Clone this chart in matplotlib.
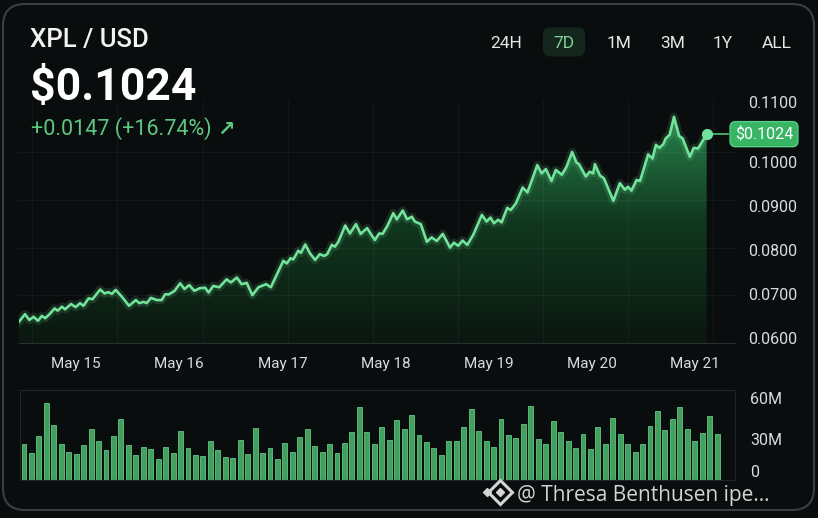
import numpy as np
import matplotlib.pyplot as plt
from matplotlib.colors import LinearSegmentedColormap
from matplotlib.patches import FancyBboxPatch
from matplotlib.transforms import blended_transform_factory

plt.rcParams['font.family'] = ['Roboto', 'DejaVu Sans']

# price line: hours since May 15 00:00 and price in USD
hours = [-13.3, -11.9, -10.9, -9.9, -8.9, -8.0, -7.2, -6.4, -5.0, -4.3,
         -3.3, -2.6, -1.2, -0.1, 0.9, 1.7, 2.9, 3.8, 5.6, 6.6,
         7.5, 8.3, 9.2, 10.6, 12.3, 13.9, 14.7, 15.7, 16.4, 17.4,
         18.8, 19.9, 20.7, 21.6, 22.9, 24.2, 25.2, 26.3, 27.5, 28.8,
         30.0, 30.8, 31.9, 33.3, 35.0, 36.0, 37.4, 38.5, 39.7, 41.0,
         42.4, 44.2, 45.3, 47.0, 48.2, 49.0, 49.9, 50.5, 51.7, 52.3,
         53.3, 54.4, 55.6, 56.7, 57.7, 58.4, 59.5, 60.2, 61.0, 62.6,
         63.7, 65.1, 66.2, 67.7, 69.5, 70.5, 71.3, 72.4, 73.8, 74.6,
         76.0, 77.0, 78.1, 78.8, 80.2, 81.6, 82.7, 83.9, 85.3, 87.0,
         87.9, 88.9, 89.9, 91.0, 92.4, 94.4, 95.5, 96.4, 97.2, 98.2,
         99.0, 100.3, 101.1, 102.3, 103.9, 105.0, 107.3, 108.3, 109.3, 110.6,
         111.6, 113.0, 114.1, 115.4, 116.4, 117.0, 118.6, 119.5, 120.3, 120.7,
         121.9, 122.8, 125.0, 126.5, 127.7, 128.4, 129.2, 130.4, 131.2, 133.1,
         134.1, 134.9, 135.7, 136.6, 137.2, 138.1, 139.1, 140.3, 141.1, 142.8,
         143.7, 144.7, 145.3, 146.7]
price = [0.0637, 0.0654, 0.0641, 0.0648, 0.0639, 0.0650, 0.0645, 0.0652, 0.0667, 0.0662,
         0.0671, 0.0665, 0.0677, 0.0670, 0.0679, 0.0673, 0.0690, 0.0688, 0.0710, 0.0701,
         0.0704, 0.0700, 0.0709, 0.0694, 0.0673, 0.0686, 0.0679, 0.0682, 0.0679, 0.0691,
         0.0686, 0.0686, 0.0699, 0.0699, 0.0707, 0.0724, 0.0711, 0.0720, 0.0707, 0.0713,
         0.0714, 0.0703, 0.0718, 0.0715, 0.0733, 0.0726, 0.0737, 0.0722, 0.0725, 0.0697,
         0.0715, 0.0722, 0.0715, 0.0750, 0.0775, 0.0769, 0.0781, 0.0778, 0.0798, 0.0793,
         0.0812, 0.0792, 0.0777, 0.0790, 0.0786, 0.0790, 0.0811, 0.0807, 0.0818, 0.0855,
         0.0837, 0.0858, 0.0836, 0.0849, 0.0822, 0.0837, 0.0836, 0.0854, 0.0883, 0.0869,
         0.0889, 0.0869, 0.0875, 0.0864, 0.0858, 0.0818, 0.0828, 0.0820, 0.0836, 0.0805,
         0.0816, 0.0809, 0.0821, 0.0811, 0.0834, 0.0879, 0.0864, 0.0873, 0.0860, 0.0868,
         0.0862, 0.0895, 0.0890, 0.0905, 0.0941, 0.0930, 0.0992, 0.0973, 0.0983, 0.0956,
         0.0981, 0.0970, 0.0988, 0.1016, 0.0998, 0.0994, 0.0966, 0.0977, 0.0973, 0.0994,
         0.0968, 0.0962, 0.0911, 0.0951, 0.0936, 0.0943, 0.0934, 0.0958, 0.0956, 0.1012,
         0.1005, 0.1028, 0.1023, 0.1029, 0.1039, 0.1045, 0.1075, 0.1043, 0.1039, 0.1008,
         0.1023, 0.1022, 0.1029, 0.1046]

# volume bars, millions
volume_m = [26.1, 19.8, 32.2, 56.3, 40.2, 26.6, 20.7, 19.0, 25.6, 37.3,
            28.8, 22.2, 32.2, 44.9, 25.9, 18.3, 23.9, 22.7, 15.6, 23.9,
            19.5, 35.9, 23.2, 18.3, 17.8, 28.5, 22.0, 16.6, 15.9, 29.0,
            19.3, 38.0, 20.0, 23.4, 15.6, 27.3, 20.5, 31.2, 37.3, 24.6,
            20.2, 26.6, 19.8, 27.3, 34.9, 53.4, 35.4, 26.3, 39.0, 29.3,
            44.1, 37.3, 47.6, 32.7, 27.6, 23.7, 18.3, 28.3, 28.3, 39.0,
            52.0, 35.9, 28.3, 24.4, 44.4, 32.9, 30.5, 41.0, 54.1, 30.0,
            26.3, 43.4, 35.4, 28.5, 23.4, 33.7, 22.4, 38.8, 26.1, 45.6,
            33.7, 26.3, 20.2, 26.1, 39.3, 50.7, 36.8, 44.9, 53.2, 37.3,
            28.8, 34.4, 47.1, 33.4]

day_hours = [0, 24, 48, 72, 96, 120, 144]
day_labels = ['May 15', 'May 16', 'May 17', 'May 18', 'May 19', 'May 20', 'May 21']
price_ticks = [0.06, 0.07, 0.08, 0.09, 0.10, 0.11]
vol_ticks = [0, 30, 60]
vol_labels = ['0', '30M', '60M']
frames = ['24H', '7D', '1M', '3M', '1Y', 'ALL']
active_frame = '7D'
pair = 'XPL / USD'
last_label = '$0.1024'
change_label = '+0.0147 (+16.74%)'
watermark = '@ Thresa Benthusen ipe...'

BG = '#0a0d0e'
LINE = '#72e39a'
TXT = '#d9dcdc'
GREEN_TXT = '#5cc87f'

# the price axis of the screenshot is not evenly spaced above 0.10
scale_vals = [0.05, 0.06, 0.10, 0.11, 0.12]
scale_pos = [-44.1, 0.0, 176.5, 236.0, 295.5]
def fwd(v):
    return np.interp(v, scale_vals, scale_pos)
def inv(p):
    return np.interp(p, scale_pos, scale_vals)

fig = plt.figure(figsize=(8.18, 5.18), dpi=100)
fig.patch.set_facecolor(BG)

# price panel
ax = fig.add_axes([19 / 818, 175 / 518, 716 / 818, 243 / 518])
ax.set_facecolor('none')
ax.set_yscale('function', functions=(fwd, inv))
ybot, ytop = 0.05887, 0.11034
xl, xr = -13.3, 153.3

fill = ax.fill_between(hours, price, ybot, color='none', lw=0)
cmap = LinearSegmentedColormap.from_list('g', ['#0b1710', '#11381f', '#2b8d53'])
grad = np.linspace(1, 0, 256).reshape(-1, 1)
im = ax.imshow(grad, extent=[0, 1, 0, 1], transform=ax.transAxes, aspect='auto',
               cmap=cmap, zorder=1, interpolation='bicubic')
im.set_clip_path(fill.get_paths()[0], transform=ax.transData)

ax.plot(hours, price, color=LINE, lw=6, alpha=0.14, zorder=2, solid_joinstyle='round')
ax.plot(hours, price, color=LINE, lw=1.9, zorder=3, solid_joinstyle='round')
ax.plot([hours[-1], xr - 1.7], [price[-1], price[-1]], color='#4fc27a', lw=1.2, zorder=3)
ax.plot(hours[-1], price[-1], 'o', ms=7, color=LINE, zorder=4)
ax.text(1.0405, price[-1], last_label, transform=blended_transform_factory(ax.transAxes, ax.transData),
        ha='center', va='center', color='white', fontsize=11.5, clip_on=False, zorder=5,
        bbox=dict(boxstyle='round,pad=0.3,rounding_size=0.35', fc='#37b464', ec='#58d086', lw=1))

ax.set_xlim(xl, xr)
ax.set_ylim(ybot, ytop)
ax.set_xticks(day_hours, day_labels)
ax.set_yticks(price_ticks, [f'{t:.4f}' for t in price_ticks])
ax.set_xticks(np.arange(-10.2, 150, 19.8), minor=True)
ax.set_yticks([0.0698, 0.0804, 0.0913, 0.1016], minor=True)
ax.grid(which='minor', color='white', alpha=0.045, lw=0.8)
ax.yaxis.tick_right()
ax.tick_params(which='both', length=0)
ax.tick_params(axis='y', pad=9.4, labelsize=11.5, labelcolor=TXT)
ax.tick_params(axis='x', pad=10, labelsize=11, labelcolor=TXT)
for s in ['top', 'left', 'right']:
    ax.spines[s].set_visible(False)
ax.spines['bottom'].set_color('#2a3032')

# volume panel
ax2 = fig.add_axes([20 / 818, 38 / 518, 715 / 818, 90 / 518])
ax2.set_facecolor('none')
ax2.bar(np.arange(len(volume_m)), volume_m, width=0.66, color='#42a05e',
        edgecolor='#62c482', linewidth=0.6)
ax2.set_xlim(-0.54, 95.4)
ax2.set_ylim(0, 66)
ax2.set_xticks([])
ax2.set_yticks(vol_ticks, vol_labels)
ax2.yaxis.tick_right()
ax2.tick_params(length=0, pad=10.8, labelsize=11.5, labelcolor=TXT)
vticks = ax2.yaxis.get_major_ticks()
vticks[0].label2.set_va('bottom')
for s in ax2.spines.values():
    s.set_color('#202627')

# overlay in pixel units for the card, header and watermark
ov = fig.add_axes([0, 0, 1, 1], zorder=5)
ov.set_xlim(0, 818)
ov.set_ylim(518, 0)
ov.axis('off')
ov.patch.set_alpha(0)
ov.add_patch(FancyBboxPatch((3, 4), 811, 506, boxstyle='round,pad=0,rounding_size=22',
                            fc='none', ec='#3a4042', lw=1.5))

ov.text(30, 47, pair, fontsize=18.5, fontweight='medium', color='#f2f2f2', va='baseline')
ov.text(30, 100, last_label, fontsize=32, fontweight='bold', color='white', va='baseline')
ov.text(31, 135, change_label, fontsize=15.5, color=GREEN_TXT, va='baseline')
ov.text(217, 136, '\u2197', fontsize=15, fontweight='bold', color=GREEN_TXT, va='baseline',
        family=['DejaVu Sans'])

frame_x = [506, 564, 619, 673, 723, 777]
for fx, lab in zip(frame_x, frames):
    if lab == active_frame:
        ov.add_patch(FancyBboxPatch((fx - 21, 27.5), 42, 29, boxstyle='round,pad=0,rounding_size=7',
                                    fc='#15271c', ec='none'))
        ov.text(fx, 43, lab, fontsize=12.5, color='#7fd39a', ha='center', va='center')
    else:
        ov.text(fx, 43, lab, fontsize=12.5, color='#e6e6e6', ha='center', va='center')

ov.plot(500, 492, marker='D', ms=12, mfc='none', mec='#d4d4d4', mew=2.2)
ov.plot(500, 492, marker='D', ms=4.5, color='#d4d4d4')
ov.plot(487, 492, marker='D', ms=4, color='#d4d4d4')
ov.text(517, 495, watermark, fontsize=15, color='#d4d4d4', va='center',
        family=['Open Sans', 'DejaVu Sans'])

fig.savefig('out.png', dpi=100, facecolor=BG)
